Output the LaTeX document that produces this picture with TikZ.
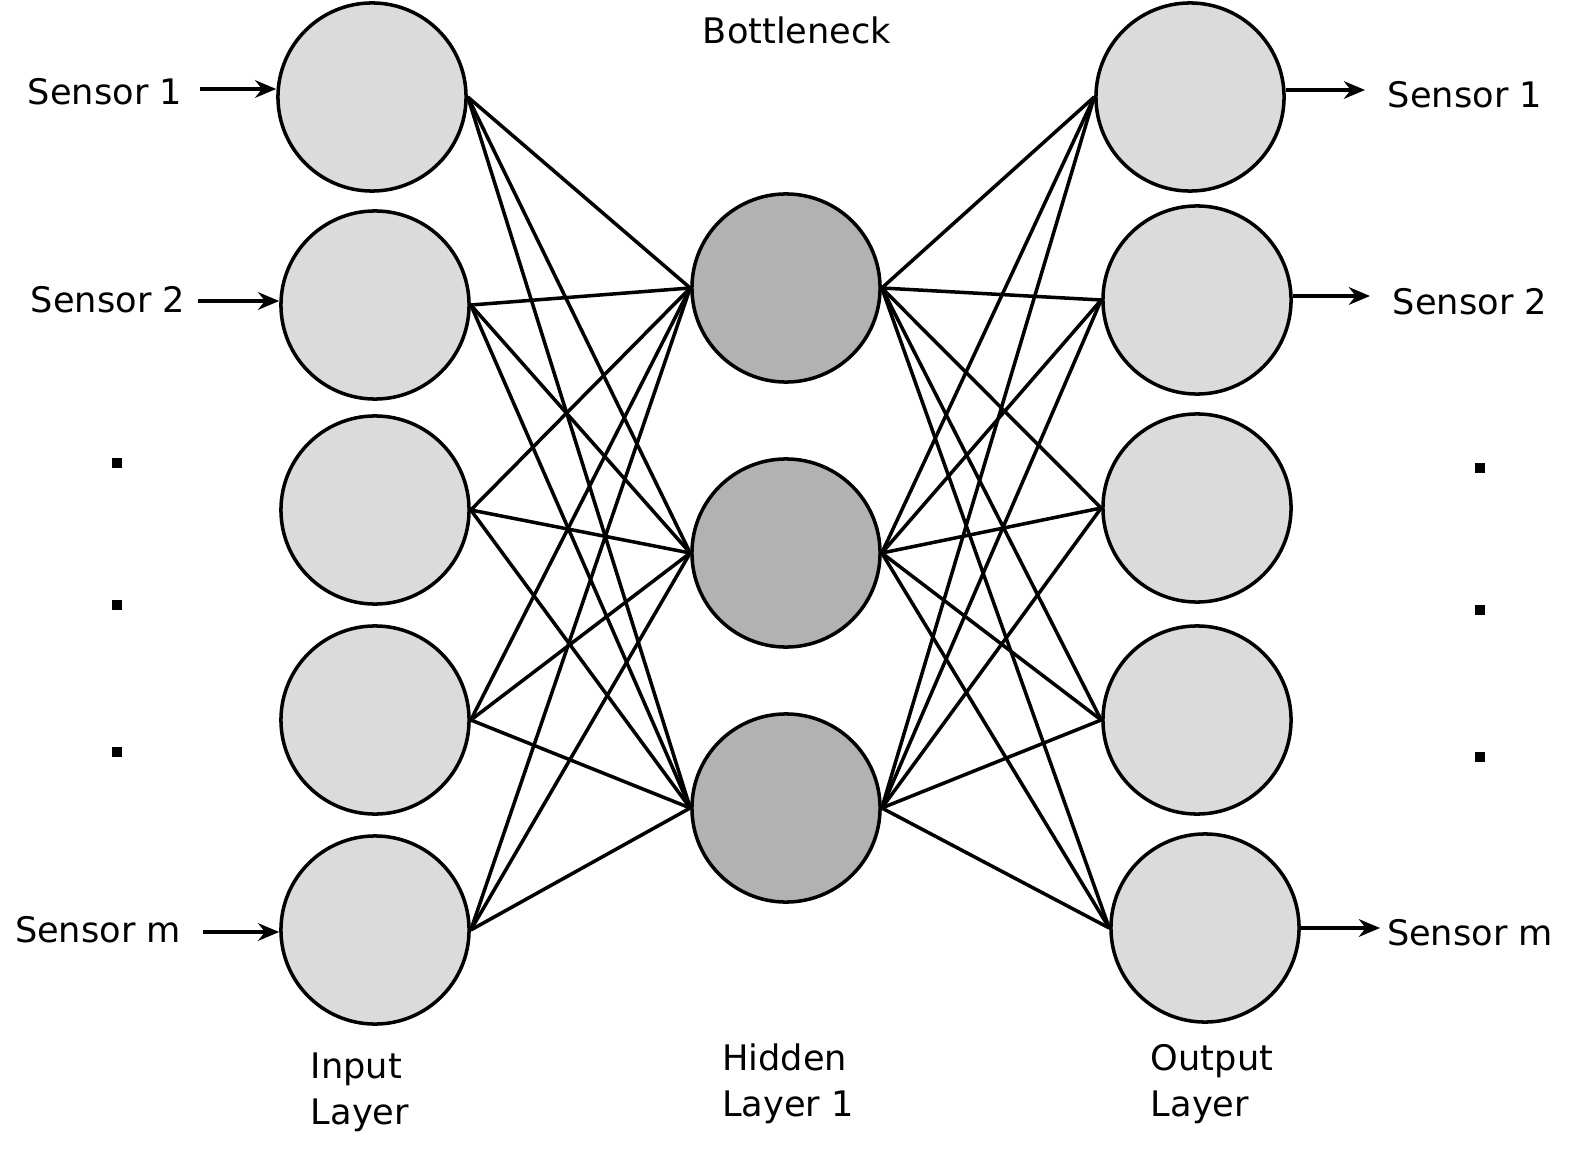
\documentclass[tikz,border=0pt]{standalone}
\usepackage{fontspec}
\setmainfont{DejaVu Sans}
\usetikzlibrary{arrows.meta}
\begin{document}
\begin{tikzpicture}[x=0.01cm,y=-0.01cm,line width=1pt,
	font=\fontsize{10}{13}\selectfont,
	inp/.style={circle,draw,fill=gray!28,minimum size=1.88cm,inner sep=0pt},
	hid/.style={circle,draw,fill=gray!60,minimum size=1.88cm,inner sep=0pt},
	arr/.style={-{Stealth[length=6pt,width=5pt]}},
	dot/.style={fill=black,minimum size=3pt,inner sep=0pt}]
	\useasboundingbox (0,0) rectangle (1570,1149);
	% layers
	\foreach \i/\x/\y in {1/372/97,2/375/305,3/375/510,4/375/720,5/375/930}
		\node[inp] (in\i) at (\x,\y) {};
	\foreach \i/\y in {1/288,2/553,3/808}
		\node[hid] (h\i) at (786,\y) {};
	\foreach \i/\x/\y in {1/1190/97,2/1197/300,3/1197/508,4/1197/720,5/1205/928}
		\node[inp] (out\i) at (\x,\y) {};
	% connections
	\foreach \i in {1,...,5}
		\foreach \j in {1,2,3}
		{
			\draw (in\i.east) -- (h\j.west);
			\draw (h\j.east) -- (out\i.west);
		}
	% sensors
	\node (s1) at (105,92) {Sensor 1};
	\node (s2) at (108,300) {Sensor 2};
	\node (sm) at (98,930) {Sensor m};
	\coordinate (a1) at (200,89);
	\coordinate (a2) at (198,301);
	\coordinate (am) at (203,932);
	\draw[arr] (a1) -- (a1 -| in1.west);
	\draw[arr] (a2) -- (a2 -| in2.west);
	\draw[arr] (am) -- (am -| in5.west);
	\node (t1) at (1465,95) {Sensor 1};
	\node (t2) at (1470,302) {Sensor 2};
	\node (tm) at (1470,933) {Sensor m};
	\coordinate (b1) at (1365,90);
	\coordinate (b2) at (1370,296);
	\coordinate (bm) at (1380,928);
	\draw[arr] (b1 -| out1.east) -- (b1);
	\draw[arr] (b2 -| out2.east) -- (b2);
	\draw[arr] (bm -| out5.east) -- (bm);
	\foreach \y [count=\k] in {463,605,752}
	{
		\node[dot] (dl\k) at (117,\y) {};
		\node[dot] (dr\k) at (1480,\y+5) {};
	}
	% titles
	\node (bn) at (797,30) {Bottleneck};
	\node[align=left] (il) at (360,1092) {Input\\Layer};
	\node[align=left] (hl) at (788,1084) {Hidden\\Layer 1};
	\node[align=left] (ol) at (1212,1084) {Output\\Layer};
\end{tikzpicture}
\end{document}
